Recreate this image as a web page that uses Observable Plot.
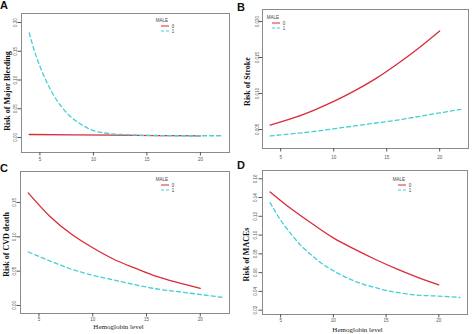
<!DOCTYPE html>
<html><head><meta charset="utf-8">
<script src="https://cdn.jsdelivr.net/npm/d3@7"></script>
<script src="https://cdn.jsdelivr.net/npm/@observablehq/plot@0.6"></script>
<style>
body{margin:0;background:#fff;}
#wrap{position:relative;width:474px;height:334px;overflow:hidden;background:#fff;}
.cell{position:absolute;width:237px;height:167px;}
.cell svg{overflow:visible;}
.letter{position:absolute;font:bold 11px "Liberation Sans",Arial,sans-serif;color:#111;line-height:1;}
</style></head><body><div id="wrap"></div>
<script>
// ---- shared ----
const hemoTicks = [5, 10, 15, 20];
const xDomain = [3.28, 22.72];
const legendTitle = "MALE";
const sexLevels = ["0", "1"];
const xTitle = "Hemoglobin level";
const panelLetters = ["A", "B", "C", "D"];

// ---- Panel A: Major bleeding ----
const aTitle = "Risk of Major Bleeding";
const aYTicks = [0, 0.05, 0.10, 0.15, 0.20];
const aHb0 = [4, 8, 12, 16, 20];
const aRisk0 = [0.0052, 0.0046, 0.0040, 0.0034, 0.0028];
const aHb1 = [4, 4.5, 5, 5.5, 6, 6.5, 7, 7.5, 8, 8.5, 9, 9.5, 10, 11, 12, 13, 14, 16, 18, 20, 22];
const aRisk1 = [0.182, 0.150, 0.124, 0.102, 0.083, 0.067, 0.054, 0.043, 0.034, 0.027, 0.021, 0.016, 0.012, 0.008, 0.006, 0.005, 0.004, 0.0035, 0.003, 0.003, 0.003];

// ---- Panel B: Stroke ----
const bTitle = "Risk of Stroke";
const bYTicks = [0.005, 0.010, 0.015, 0.020];
const bHb0 = [4, 6, 8, 10, 12, 14, 16, 18, 20];
const bRisk0 = [0.0056, 0.0065, 0.0076, 0.0089, 0.0104, 0.0121, 0.0141, 0.0163, 0.0187];
const bHb1 = [4, 6, 8, 10, 12, 14, 16, 18, 20, 22];
const bRisk1 = [0.0041, 0.0044, 0.0047, 0.0051, 0.0055, 0.0059, 0.0063, 0.0068, 0.0073, 0.0078];

// ---- Panel C: CVD death ----
const cTitle = "Risk of CVD death";
const cYTicks = [0, 0.05, 0.10, 0.15];
const cHb0 = [4, 6, 8, 10, 12, 14, 16, 18, 20];
const cRisk0 = [0.164, 0.130, 0.104, 0.084, 0.067, 0.054, 0.042, 0.033, 0.025];
const cHb1 = [4, 6, 8, 10, 12, 14, 16, 18, 20, 22];
const cRisk1 = [0.078, 0.065, 0.053, 0.044, 0.037, 0.030, 0.024, 0.020, 0.016, 0.012];

// ---- Panel D: MACEs ----
const dTitle = "Risk of MACEs";
const dYTicks = [0.02, 0.04, 0.06, 0.08, 0.10, 0.12, 0.14, 0.16];
const dHb0 = [4, 6, 8, 10, 12, 14, 16, 18, 20];
const dRisk0 = [0.146, 0.128, 0.112, 0.097, 0.085, 0.074, 0.064, 0.055, 0.047];
const dHb1 = [4, 5, 6, 7, 8, 9, 10, 11, 12, 13, 14, 15, 16, 18, 20, 22];
const dRisk1 = [0.1346, 0.116, 0.101, 0.088, 0.078, 0.069, 0.062, 0.056, 0.051, 0.047, 0.044, 0.041, 0.039, 0.036, 0.035, 0.0335];

const RED = "#d92b3a";
const CYAN = "#45cfd6";

const panels = [
  {letter: panelLetters[0], left: 0, top: 0, ml: 21, mr: 8, mt: 13, mb: 15, yDomain: [-0.0261, 0.2157], yTicks: aYTicks, fmt: d3.format(".2f"),
   hb0: aHb0, r0: aRisk0, hb1: aHb1, r1: aRisk1, title: aTitle, tdx: -14, tdy: 8, xPad: 1.5, yPad: 1.5, showX: false,
   leg: [161, 20], letterPos: [0, 0]},
  {letter: panelLetters[1], left: 237, top: 0, ml: 25, mr: 6, mt: 9, mb: 19, yDomain: [0.00236, 0.02167], yTicks: bYTicks, fmt: d3.format(".3f"),
   hb0: bHb0, r0: bRisk0, hb1: bHb1, r1: bRisk1, title: bTitle, tdx: -15, tdy: 2.5, xPad: 4, yPad: 0.5, showX: false,
   leg: [35, 17], letterPos: [237, 2]},
  {letter: panelLetters[2], left: 0, top: 167, ml: 20, mr: 8, mt: 4, mb: 21, yDomain: [-0.01165, 0.1951], yTicks: cYTicks, fmt: d3.format(".2f"),
   hb0: cHb0, r0: cRisk0, hb1: cHb1, r1: cRisk1, title: cTitle, tdx: -14, tdy: 2, xPad: 1, yPad: 1.5, showX: true, xdx: -6.5, xdy: 13,
   leg: [161, 12], letterPos: [0, 163]},
  {letter: panelLetters[3], left: 237, top: 167, ml: 25, mr: 7, mt: 3, mb: 20, yDomain: [0.0154, 0.1688], yTicks: dYTicks, fmt: d3.format(".2f"),
   hb0: dHb0, r0: dRisk0, hb1: dHb1, r1: dRisk1, title: dTitle, tdx: -16, tdy: 12, xPad: 0.5, yPad: 2.5, showX: true, xdx: -7.5, xdy: 15,
   leg: [161, 12], letterPos: [237, 160]}
];

const wrap = document.getElementById("wrap");

for (const p of panels) {
  const d0 = p.hb0.map((h, i) => ({h, r: p.r0[i]}));
  const d1 = p.hb1.map((h, i) => ({h, r: p.r1[i]}));
  const marks = [
    Plot.frame({stroke: "#8a8a8a", strokeWidth: 1}),
    Plot.axisX(hemoTicks, {tickSize: 3.5, tickPadding: p.xPad, fontSize: 4.5, label: null, color: "#555"}),
    Plot.axisY(p.yTicks, {tickFormat: p.fmt, tickRotate: -90, tickSize: 3.5, tickPadding: p.yPad, fontSize: 4.5, label: null, color: "#555"}),
    Plot.line(d0, {x: "h", y: "r", stroke: RED, strokeWidth: 1.3, curve: "monotone-x"}),
    Plot.line(d1, {x: "h", y: "r", stroke: CYAN, strokeWidth: 1.3, strokeDasharray: "4,3", curve: "monotone-x"}),
    Plot.text([p.title], {frameAnchor: "left", textAnchor: "middle", lineAnchor: "middle", rotate: -90, dx: p.tdx, dy: p.tdy, fontWeight: "bold", fontFamily: "Liberation Serif, Times New Roman, serif", fontSize: 8, fill: "#111"})
  ];
  if (p.showX) marks.push(Plot.text([xTitle], {frameAnchor: "bottom", textAnchor: "middle", lineAnchor: "middle", dx: p.xdx, dy: p.xdy, fontFamily: "Liberation Serif, Times New Roman, serif", fontSize: 7, fill: "#222"}));
  const chart = Plot.plot({
    width: 237, height: 167,
    marginLeft: p.ml, marginRight: p.mr, marginTop: p.mt, marginBottom: p.mb,
    style: {background: "transparent", fontFamily: "Liberation Sans, Arial, sans-serif", overflow: "visible"},
    x: {domain: xDomain},
    y: {domain: p.yDomain},
    marks
  });
  // legend
  const svg = d3.select(chart);
  const [lx, ly] = p.leg;
  const g = svg.append("g").attr("font-family", "Liberation Sans, Arial, sans-serif").attr("font-size", 4.5).attr("fill", "#444");
  g.append("text").attr("x", lx + 1).attr("y", ly).attr("dy", "0.35em").text(legendTitle);
  const styles = [{stroke: RED, dash: null}, {stroke: CYAN, dash: "3,2"}];
  sexLevels.forEach((lev, i) => {
    const yy = ly + 6 + i * 5;
    g.append("line").attr("x1", lx).attr("x2", lx + 8).attr("y1", yy).attr("y2", yy)
      .attr("stroke", styles[i].stroke).attr("stroke-width", 1).attr("stroke-dasharray", styles[i].dash);
    g.append("text").attr("x", lx + 12).attr("y", yy).attr("dy", "0.35em").text(lev);
  });
  const cell = document.createElement("div");
  cell.className = "cell";
  cell.style.left = p.left + "px";
  cell.style.top = p.top + "px";
  cell.appendChild(chart);
  wrap.appendChild(cell);
  const lt = document.createElement("div");
  lt.className = "letter";
  lt.textContent = p.letter;
  lt.style.left = p.letterPos[0] + "px";
  lt.style.top = p.letterPos[1] + "px";
  wrap.appendChild(lt);
}
</script>
</body></html>
